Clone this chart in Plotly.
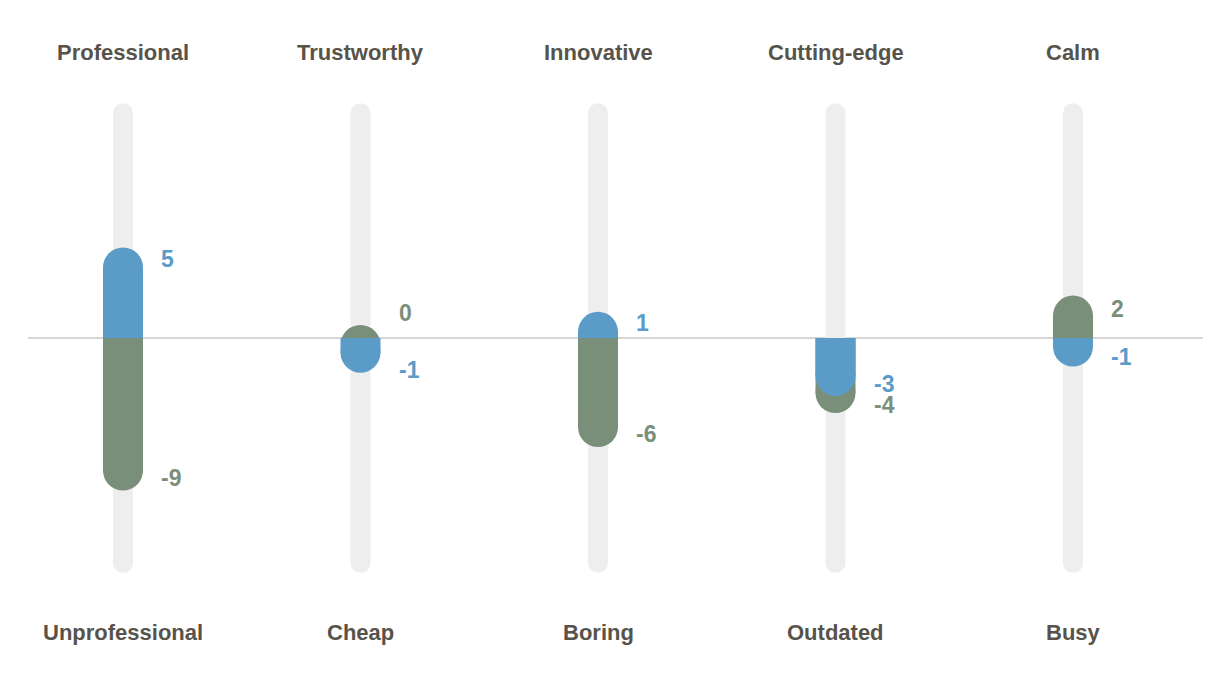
import plotly.graph_objects as go

# ---- data ----
top_labels = ["Professional", "Trustworthy", "Innovative", "Cutting-edge", "Calm"]
bottom_labels = ["Unprofessional", "Cheap", "Boring", "Outdated", "Busy"]
green_values = [-9, 0, -6.2, -4, 1.9]
blue_values = [5, -1.4, 0.85, -2.9, -1]
green_text = ["-9", "0", "-6", "-4", "2"]
blue_text = ["5", "-1", "1", "-3", "-1"]
track_extent = 15.15

# ---- style ----
OFF = 8               # page body margin
W, H = 1232 - 2 * OFF, 694 - 2 * OFF
PX_X = 237.5          # px per category
X0 = 123 - OFF        # px of first category
PX_Y = 15.5           # px per unit
Y0 = 338 - OFF        # px of zero line
BAR_W = 40            # px
R = BAR_W / 2
CAP = 13 / PX_Y       # visible stub beyond the value, in units
TRACK_W = 20
BLUE = "#5b9bc8"
GREEN = "#7a8f7a"
TRACK = "#eeeeee"
TEXT = "#57534b"
FONT = "Liberation Sans"

xs = list(range(len(top_labels)))
Z = (H - Y0) / H      # paper fraction of zero line


def sgn(v):
    return 1 if v >= 0 else -1


def cap_center(v):
    # centre of the round end: tip minus radius
    return v + sgn(v) * (CAP - R / PX_Y)


fig = go.Figure()

# tracks: upper half in y, lower half in y2
for ext, ax in ((track_extent, "y"), (-track_extent, "y2")):
    fig.add_trace(go.Bar(
        x=xs, y=[ext] * len(xs), width=TRACK_W / PX_X, yaxis=ax,
        marker=dict(color=TRACK, cornerradius=TRACK_W / 2, line=dict(width=0)),
        hoverinfo="skip", showlegend=False))


def add_bar(i, v, color):
    ax = "y" if sgn(v) > 0 else "y2"
    c = cap_center(v)
    fig.add_trace(go.Scatter(
        x=[i, i], y=[0, c], yaxis=ax, mode="lines",
        line=dict(color=color, width=BAR_W), cliponaxis=True,
        hoverinfo="skip", showlegend=False))
    fig.add_trace(go.Scatter(
        x=[i], y=[c], yaxis=ax, mode="markers",
        marker=dict(color=color, size=BAR_W, line=dict(width=0)), cliponaxis=True,
        hoverinfo="skip", showlegend=False))


for i in xs:
    add_bar(i, green_values[i], GREEN)
for i in xs:
    add_bar(i, blue_values[i], BLUE)

# zero line
fig.add_shape(type="line", xref="paper", yref="paper", x0=(28 - OFF) / W, x1=(1203 - OFF) / W,
              y0=Z, y1=Z, line=dict(color="#c8c8c8", width=1.6), layer="below")

annotations = []
green_shift = [0, 25, 0, -5, 0]
blue_shift = [2, -10, 2, -1, -3]
for i in xs:
    for vals, txt, shifts, col in ((green_values, green_text, green_shift, GREEN),
                                   (blue_values, blue_text, blue_shift, BLUE)):
        v = vals[i]
        annotations.append(dict(x=i, y=v, xref="x", yref="y" if sgn(v) > 0 else "y2",
                                text=txt[i], showarrow=False,
                                xanchor="left", yanchor="middle", xshift=36,
                                yshift=shifts[i],
                                font=dict(family=FONT, size=23, color=col, weight="bold")))
    annotations.append(dict(x=i, y=1 - (53 - OFF) / H, xref="x", yref="paper",
                            text=top_labels[i], showarrow=False,
                            xanchor="center", yanchor="middle",
                            font=dict(family=FONT, size=22, color=TEXT, weight="bold")))
    annotations.append(dict(x=i, y=1 - (632 - OFF) / H, xref="x", yref="paper",
                            text=bottom_labels[i], showarrow=False,
                            xanchor="center", yanchor="middle",
                            font=dict(family=FONT, size=22, color=TEXT, weight="bold")))

fig.update_layout(
    width=W, height=H,
    margin=dict(l=0, r=0, t=0, b=0),
    paper_bgcolor="white", plot_bgcolor="rgba(0,0,0,0)",
    barmode="overlay",
    showlegend=False,
    xaxis=dict(range=[-X0 / PX_X, (W - X0) / PX_X], visible=False, fixedrange=True),
    yaxis=dict(domain=[Z, 1], range=[0, Y0 / PX_Y], visible=False, fixedrange=True),
    yaxis2=dict(domain=[0, Z], range=[-(H - Y0) / PX_Y, 0], visible=False, fixedrange=True),
    annotations=annotations,
)

fig.write_html("out.html")
